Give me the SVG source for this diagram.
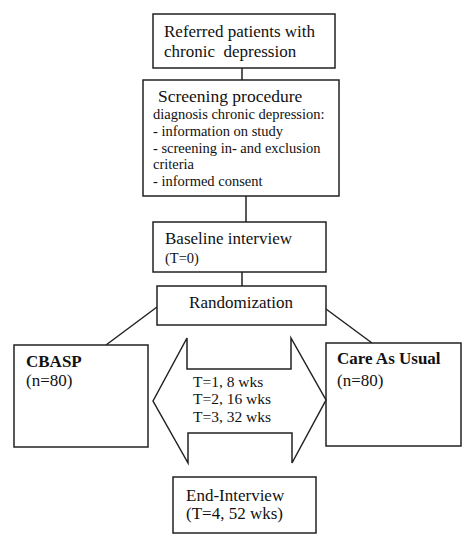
<svg xmlns="http://www.w3.org/2000/svg" width="474" height="546" viewBox="0 0 474 546">
<style>
.box{fill:#fff;stroke:#222;stroke-width:1.5}
.ln{fill:none;stroke:#222;stroke-width:1.5}
text{font-family:"Liberation Serif","Times New Roman",serif;fill:#111}
.t17{font-size:17px}
.t14{font-size:14.5px}
.t15{font-size:15.5px}
.b{font-weight:bold}
</style>
<rect width="474" height="546" fill="#fff"/>
<g id="connectors">
<line class="ln" x1="242" y1="68" x2="242" y2="80"/>
<line class="ln" x1="246" y1="196" x2="246" y2="222"/>
<line class="ln" x1="242" y1="272" x2="242" y2="286"/>
<line class="ln" x1="157" y1="307" x2="106" y2="345"/>
<line class="ln" x1="326" y1="309" x2="372" y2="343"/>
</g>
<g id="referred">
<rect class="box" x="153" y="14" width="182" height="54"/>
<text class="t17" x="164" y="37">Referred patients with</text>
<text class="t17" x="164" y="57" xml:space="preserve">chronic  depression</text>
</g>
<g id="screening">
<rect class="box" x="143" y="80" width="196" height="116"/>
<text x="158" y="102" style="font-size:17.5px">Screening procedure</text>
<text class="t14" x="153" y="119">diagnosis chronic depression:</text>
<text class="t14" x="153" y="136">- information on study</text>
<text class="t14" x="153" y="153">- screening in- and exclusion</text>
<text class="t14" x="153" y="169">criteria</text>
<text class="t14" x="153" y="186">- informed consent</text>
</g>
<g id="baseline">
<rect class="box" x="153" y="222" width="173" height="50"/>
<text class="t17" x="165" y="244">Baseline interview</text>
<text class="t14" x="165" y="263">(T=0)</text>
</g>
<g id="randomization">
<rect class="box" x="157" y="286" width="169" height="39"/>
<text class="t17" x="241" y="308" text-anchor="middle">Randomization</text>
</g>
<g id="cbasp">
<rect class="box" x="14" y="345" width="134" height="102"/>
<text class="t17 b" x="26" y="367">CBASP</text>
<text class="t17" x="26" y="386">(n=80)</text>
</g>
<g id="cau">
<rect class="box" x="326" y="343" width="135" height="103"/>
<text class="t17 b" x="337" y="364">Care As Usual</text>
<text class="t17" x="337" y="386">(n=80)</text>
</g>
<g id="arrow">
<polygon class="box" points="153,401 187,338 187,369 291,369 291,338 326,400 292,463 292,433 188,433 188,463"/>
<text class="t15" x="193" y="387">T=1, 8 wks</text>
<text class="t15" x="193" y="404">T=2, 16 wks</text>
<text class="t15" x="193" y="422">T=3, 32 wks</text>
</g>
<g id="end">
<rect class="box" x="173" y="477" width="143" height="56"/>
<text class="t17" x="186" y="501">End-Interview</text>
<text class="t17" x="186" y="519">(T=4, 52 wks)</text>
</g>
</svg>
